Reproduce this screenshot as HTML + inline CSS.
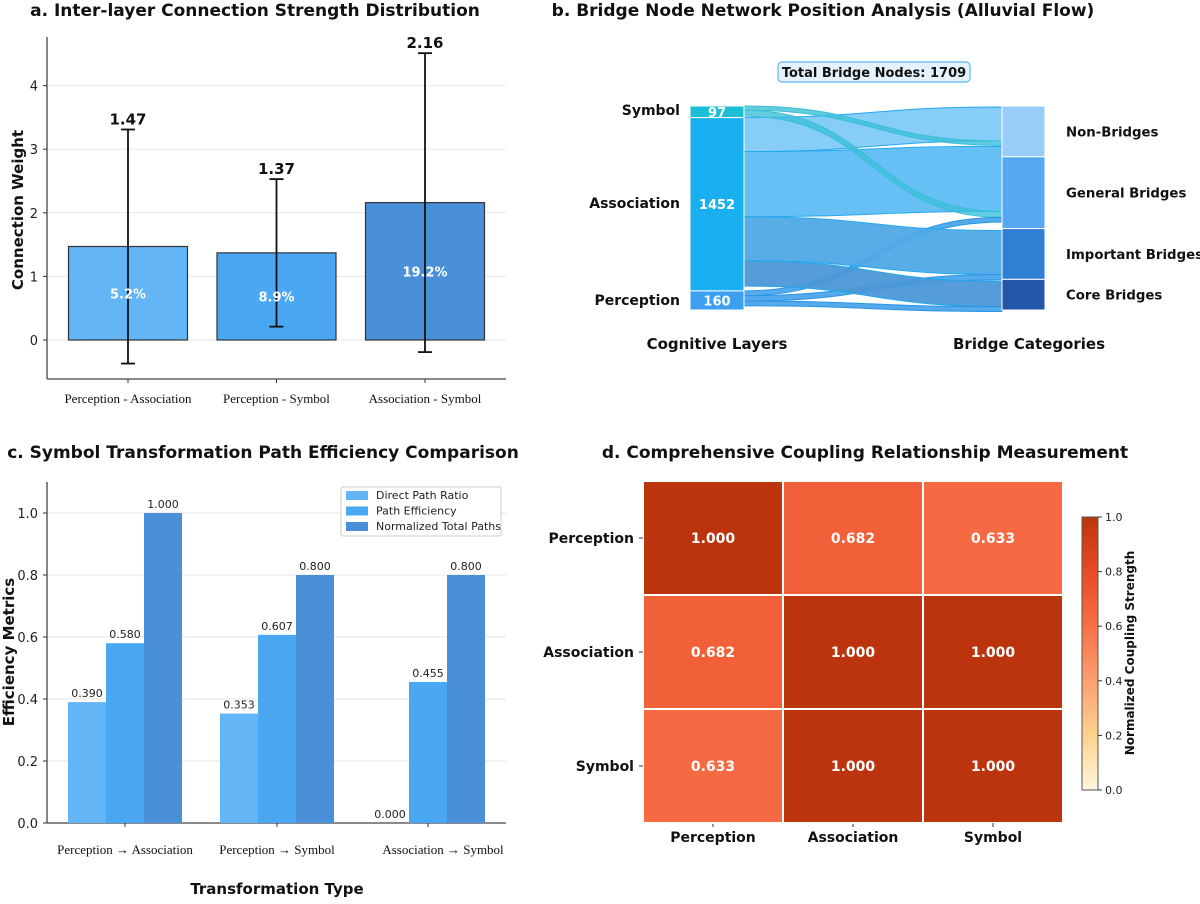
<!DOCTYPE html>
<html><head><meta charset="utf-8"><style>
body{margin:0;background:#fff;}
svg text{font-family:"DejaVu Sans","Liberation Sans",sans-serif;}
.serif{font-family:"Liberation Serif",serif !important;}
</style></head><body>
<svg id="c" width="1200" height="899" viewBox="0 0 1200 899" xmlns="http://www.w3.org/2000/svg"></svg>
<script>
// ---- panel a data
const aCats=["Perception - Association","Perception - Symbol","Association - Symbol"];
const aVals=[1.47,1.37,2.16];
const aErrLo=[-0.37,0.21,-0.19];
const aErrHi=[3.31,2.53,4.51];
const aPct=["5.2%","8.9%","19.2%"];
const aTicks=[0,1,2,3,4];
// ---- panel b data
const bLayers=["Symbol","Association","Perception"];
const bLayerVals=[97,1452,160];
const bCats=["Non-Bridges","General Bridges","Important Bridges","Core Bridges"];
const bCatVals=[290,410,290,175];
const bFlowSrc=[1,0,1,0,2,1,2,1,2];
const bFlowDst=[0,0,1,1,1,2,2,3,3];
const bFlowVal=[285,35,546,50,40,368,45,213,40];
// ---- panel c data
const cCats=["Perception → Association","Perception → Symbol","Association → Symbol"];
const cSeries=["Direct Path Ratio","Path Efficiency","Normalized Total Paths"];
const cDirect=[0.390,0.353,0.000];
const cEff=[0.580,0.607,0.455];
const cNorm=[1.000,0.800,0.800];
const cTicks=[0,0.2,0.4,0.6,0.8,1.0];
// ---- panel d data
const dLabels=["Perception","Association","Symbol"];
const dRow0=[1.000,0.682,0.633];
const dRow1=[0.682,1.000,1.000];
const dRow2=[0.633,1.000,1.000];
const dTicks=[0,0.2,0.4,0.6,0.8,1.0];

const svg=document.getElementById('c');
const NS="http://www.w3.org/2000/svg";
function el(tag,attrs,parent,text){const e=document.createElementNS(NS,tag);for(const k in attrs)e.setAttribute(k,attrs[k]);if(text!==undefined)e.textContent=text;(parent||svg).appendChild(e);return e;}
function txt(x,y,s,size,opt,parent){opt=opt||{};const t=el('text',{x:x,y:y,'font-size':size,'text-anchor':opt.anchor||'middle','font-weight':opt.bold?'bold':'normal',fill:opt.fill||'#111'},parent,s);if(opt.rot)t.setAttribute('transform','rotate(-90 '+x+' '+y+')');if(opt.cls)t.setAttribute('class',opt.cls);return t;}

// ===== Panel A
(function(){
 const g=el('g',{});
 const x0=47,x1=506,yTop=37,yBot=379;
 const ys=v=>340-(v)*63.6;
 const t=txt(255,16,"a. Inter-layer Connection Strength Distribution",17,{bold:true},g);
 aTicks.forEach(v=>{el('line',{x1:x0,x2:x1,y1:ys(v),y2:ys(v),stroke:'#e6e6e6','stroke-width':1},g);el('line',{x1:x0-4,x2:x0,y1:ys(v),y2:ys(v),stroke:'#333'},g);const tt=txt(38,ys(v)+5,String(v),13,{anchor:'end',fill:'#222'},g);});
 el('line',{x1:x0,x2:x0,y1:yTop,y2:yBot,stroke:'#444','stroke-width':1.3},g);
 el('line',{x1:x0,x2:x1,y1:yBot,y2:yBot,stroke:'#444','stroke-width':1.3},g);
 const yt=txt(23,210,"Connection Weight",15,{bold:true,rot:true},g);
 const cols=['#64b5f6','#4aa8f2','#4a90d9'];
 aCats.forEach((c,i)=>{
  const cx=128+i*148.5, w=119;
  const r=el('rect',{x:cx-w/2,y:ys(aVals[i]),width:w,height:ys(0)-ys(aVals[i]),fill:cols[i],stroke:'#333','stroke-width':1.2},g);
  
  el('line',{x1:cx,x2:cx,y1:ys(aErrHi[i]),y2:ys(aErrLo[i]),stroke:'#111','stroke-width':1.8},g);
  [aErrHi[i],aErrLo[i]].forEach(v=>el('line',{x1:cx-7,x2:cx+7,y1:ys(v),y2:ys(v),stroke:'#111','stroke-width':1.8},g));
  const vl=txt(cx,ys(aErrHi[i])-5,aVals[i].toFixed(2),15,{bold:true},g);
  const pl=txt(cx,ys(aVals[i]/2)+5,aPct[i],13,{bold:true,fill:'#fff'},g);
  el('line',{x1:cx,x2:cx,y1:yBot,y2:yBot+4,stroke:'#333'},g);
  const xl=txt(cx,403,c,13,{cls:'serif',fill:'#111'},g);
 });
})();

// ===== Panel B
(function(){
 const g=el('g',{});
 const t=txt(823,16,"b. Bridge Node Network Position Analysis (Alluvial Flow)",17,{bold:true},g);
 const bx=el('rect',{x:778,y:62,width:192,height:20,rx:4,fill:'#e3f2fd',stroke:'#64b5f6','stroke-width':1.2},g);
 const total=bLayerVals.reduce((a,b)=>a+b,0);
 const tl=txt(874,77,"Total Bridge Nodes: "+total,13,{bold:true},g);
 const top=106,H=204,lx0=690,lx1=744,rx0=1002,rx1=1045;
 const tot=bLayerVals.reduce((a,b)=>a+b,0), totR=bCatVals.reduce((a,b)=>a+b,0);
 const k=H/tot;
 const lCols=['#1cbfd6','#1aaff0','#3d9ff0'], rCols=['#99cdf9','#54a9f2','#2f80d4','#2457a8'];
 const fCols=['#7fcaf7','#5fbdf4','#4fa9e6','#4b98d6'];
 const lPos=[],rPos=[];let y=top;
 bLayerVals.forEach((v,i)=>{const h=v*k;lPos.push({y:y,h:h,off:0});y+=h;});
 y=top;bCatVals.forEach((v,i)=>{const h=v/totR*H;rPos.push({y:y,h:h,off:1});y+=h;});
 let prevEnd=top;let prevD=-1;
 bFlowVal.forEach((v,i)=>{
  const s=bFlowSrc[i],d=bFlowDst[i];
  const h=v*k;
  if(d!==prevD){ rPos[d].cur = (d===1)? prevEnd+1 : rPos[d].y+(d===0?1:2); prevD=d; }
  const sy=lPos[s].y+lPos[s].off, dy=rPos[d].cur;lPos[s].off+=h;rPos[d].cur+=h;prevEnd=rPos[d].cur;
  const mx=(lx1+rx0)/2;
  const p=`M${lx1},${sy} C${mx},${sy} ${mx},${dy} ${rx0},${dy} L${rx0},${dy+h} C${mx},${dy+h} ${mx},${sy+h} ${lx1},${sy+h} Z`;
  const col=s===0?'#3cbfd8':(s===2?'#2b95e6':fCols[d]);
  const f=el('path',{d:p,fill:col,'fill-opacity':s===1?0.95:0.8,stroke:s===1?'#22a8ee':col,'stroke-width':1},g);
  
 });
 bLayers.forEach((n,i)=>{const r=el('rect',{x:lx0,y:lPos[i].y,width:lx1-lx0,height:lPos[i].h,fill:lCols[i],stroke:'#fff','stroke-width':1},g);
  const ly=n==='Symbol'?115:(n==='Perception'?305:208);
  const a=txt(680,ly,n,14,{bold:true,anchor:'end'},g);
  const vv=txt(717,lPos[i].y+lPos[i].h/2+5,String(bLayerVals[i]),13,{bold:true,fill:'#fff'},g);});
 bCats.forEach((n,i)=>{const r=el('rect',{x:rx0,y:rPos[i].y,width:rx1-rx0,height:rPos[i].h,fill:rCols[i],stroke:'#fff','stroke-width':1},g);
  const a=txt(1066,rPos[i].y+rPos[i].h/2+5,n,13.3,{bold:true,anchor:'start'},g);});
 const c1=txt(717,349,"Cognitive Layers",15,{bold:true},g);
 const c2=txt(1029,349,"Bridge Categories",15,{bold:true},g);
})();

// ===== Panel C
(function(){
 const g=el('g',{});
 const x0=47,x1=506,yTop=482,yBot=823;
 const ys=v=>823-v*310;
 const t=txt(263,458,"c. Symbol Transformation Path Efficiency Comparison",17,{bold:true},g);
 cTicks.forEach(v=>{el('line',{x1:x0,x2:x1,y1:ys(v),y2:ys(v),stroke:'#e6e6e6'},g);el('line',{x1:x0-4,x2:x0,y1:ys(v),y2:ys(v),stroke:'#333'},g);const tt=txt(38,ys(v)+5,v.toFixed(1),13,{anchor:'end',fill:'#222'},g);});
 el('line',{x1:x0,x2:x0,y1:yTop,y2:yBot,stroke:'#444','stroke-width':1.3},g);
 el('line',{x1:x0,x2:x1,y1:yBot,y2:yBot,stroke:'#444','stroke-width':1.3},g);
 const yt=txt(14,652,"Efficiency Metrics",15,{bold:true,rot:true},g);
 const xt=txt(277,894,"Transformation Type",15,{bold:true},g);
 const cols=['#64b5f6','#4aa8f2','#4a90d9'];const series=[cDirect,cEff,cNorm];
 const centers=[125,277,428];const bw=38;
 cCats.forEach((c,i)=>{
  series.forEach((s,j)=>{const x=centers[i]-bw*1.5+j*bw;
   const r=el('rect',{x:x,y:ys(s[i]),width:bw,height:ys(0)-ys(s[i]),fill:cols[j]},g);
   const vl=txt(x+bw/2,ys(s[i])-5,s[i].toFixed(3),11,{fill:'#222'},g);});
  el('line',{x1:centers[i],x2:centers[i],y1:yBot,y2:yBot+4,stroke:'#333'},g);
  const xl=txt(centers[i]+(i===2?15:0),854,c,13,{cls:'serif'},g);
 });
 const lg=el('g',{},g);
 el('rect',{x:341,y:487,width:160,height:49,fill:'#fff',stroke:'#ccc',rx:2},lg);
 cSeries.forEach((s,j)=>{el('rect',{x:346,y:491+j*15.5,width:22,height:9,fill:cols[j]},lg);const e=txt(376,499+j*15.5,s,11,{anchor:'start',fill:'#222'},lg);});
})();

// ===== Panel D
(function(){
 const g=el('g',{});
 const t=txt(865,458,"d. Comprehensive Coupling Relationship Measurement",17,{bold:true},g);
 const stops=[[0,[255,245,224]],[0.2,[253,210,140]],[0.4,[252,160,110]],[0.6,[248,112,72]],[0.8,[232,74,36]],[1,[188,52,13]]];
 function cmap(v){for(let i=1;i<stops.length;i++){if(v<=stops[i][0]){const a=stops[i-1],b=stops[i];const t=(v-a[0])/(b[0]-a[0]);return 'rgb('+a[1].map((c,k)=>Math.round(c+(b[1][k]-c)*t)).join(',')+')';}}return 'rgb(188,52,13)';}
 const rows=[dRow0,dRow1,dRow2];const x0=643,y0=481,cw=140,ch=114;
 rows.forEach((row,i)=>{row.forEach((v,j)=>{
  const r=el('rect',{x:x0+j*cw,y:y0+i*ch,width:cw,height:ch,fill:cmap(v),stroke:'#fff','stroke-width':2},g);
  const l=txt(x0+j*cw+cw/2,y0+i*ch+ch/2+5,v.toFixed(3),14,{bold:true,fill:'#fff'},g);});
  el('line',{x1:x0-4,x2:x0,y1:y0+i*ch+ch/2,y2:y0+i*ch+ch/2,stroke:'#333'},g);
  const rl=txt(634,y0+i*ch+ch/2+5,dLabels[i],14,{bold:true,anchor:'end'},g);
  el('line',{x1:x0+i*cw+cw/2,x2:x0+i*cw+cw/2,y1:823,y2:827,stroke:'#333'},g);
  const cl=txt(x0+i*cw+cw/2,842,dLabels[i],14,{bold:true},g);
 });
 const cb=el('g',{},g);
 const defs=el('defs',{},cb);const lgd=el('linearGradient',{id:'cbg',x1:0,y1:1,x2:0,y2:0},defs);
 stops.forEach(s=>el('stop',{offset:s[0],'stop-color':cmap(s[0])},lgd));
 const cy0=517,cy1=790;
 el('rect',{x:1082,y:cy0,width:16,height:cy1-cy0,fill:'url(#cbg)',stroke:'#555','stroke-width':1},cb);
 dTicks.forEach(v=>{const y=cy1-v*(cy1-cy0);el('line',{x1:1098,x2:1102,y1:y,y2:y,stroke:'#333'},cb);const tl=txt(1105,y+4,v.toFixed(1),11,{anchor:'start',fill:'#222'},cb);});
 const ct=txt(1134,653,"Normalized Coupling Strength",12,{bold:true,rot:true},cb);
})();
</script>
</body></html>
